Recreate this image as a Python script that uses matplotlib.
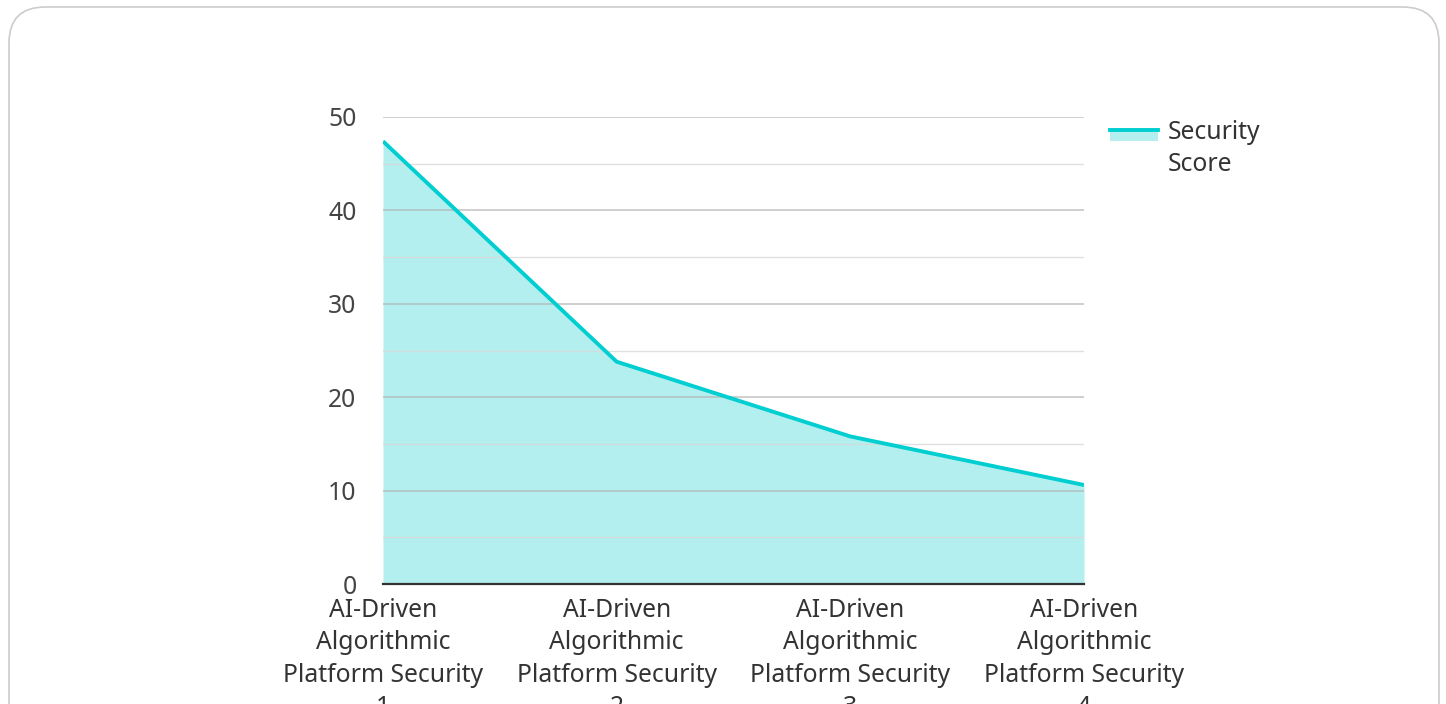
import matplotlib.pyplot as plt
from matplotlib.patches import FancyBboxPatch, Rectangle
from matplotlib.lines import Line2D

plt.rcParams['font.family'] = ['Noto Sans', 'DejaVu Sans']

categories = ["AI-Driven\nAlgorithmic\nPlatform Security\n1",
              "AI-Driven\nAlgorithmic\nPlatform Security\n2",
              "AI-Driven\nAlgorithmic\nPlatform Security\n3",
              "AI-Driven\nAlgorithmic\nPlatform Security\n4"]
security_score = [47.4, 23.8, 15.8, 10.6]
series_name = "Security\nScore"

line_color = "#00ced1"
fill_color = "#b2efee"
text_color = "#333333"
fsize = 17.8

fig = plt.figure(figsize=(14.46, 7.04), dpi=100)

# card border, runs off the bottom of the picture
card = FancyBboxPatch((9 / 1446, -0.2), 1430 / 1446, 1.2 - 7 / 704,
                      boxstyle="round,pad=0,rounding_size=0.025",
                      transform=fig.transFigure, facecolor="white",
                      edgecolor="#cccccc", linewidth=1.2, mutation_aspect=2.05,
                      zorder=-5)
fig.patches.append(card)

ax = fig.add_axes([383 / 1446, 1 - 584 / 704, (1084 - 383) / 1446, (584 - 117) / 704])
ax.patch.set_alpha(0)
x = range(len(categories))
ax.fill_between(x, security_score, 0, color=fill_color, linewidth=0, zorder=1)
ax.plot(x, security_score, color=line_color, linewidth=2.8, zorder=3,
        solid_capstyle="butt")

ax.set_xlim(0, len(categories) - 1)
ax.set_ylim(0, 50)
ax.set_yticks(range(0, 51, 10))
ax.set_yticks(range(5, 50, 10), minor=True)
ax.grid(axis="y", which="major", color="#b3b3b3", linewidth=1.1, alpha=0.8, zorder=2)
ax.grid(axis="y", which="minor", color="#d9d9d9", linewidth=1.0, alpha=0.8, zorder=2)
ax.set_axisbelow(False)

ax.set_xticks(list(x))
ax.set_xticklabels(categories, linespacing=1.39, va="top")
ax.tick_params(axis="both", which="both", length=0, labelsize=fsize, colors=text_color)
ax.tick_params(axis="x", pad=10)
ax.tick_params(axis="y", pad=19)
for lab in ax.get_yticklabels():
    lab.set_color("#444444")

for s in ["top", "right", "left"]:
    ax.spines[s].set_visible(False)
ax.spines["bottom"].set_color(text_color)
ax.spines["bottom"].set_linewidth(1.6)
ax.spines["bottom"].set_zorder(4)

# legend drawn by hand to match the swatch
fig.patches.append(Rectangle((1110 / 1446, 1 - 141 / 704), 48 / 1446, 12 / 704,
                             transform=fig.transFigure, facecolor=fill_color,
                             edgecolor="none"))
fig.lines.append(Line2D([1110 / 1446, 1158 / 1446], [1 - 129.5 / 704, 1 - 129.5 / 704],
                        transform=fig.transFigure, color=line_color, linewidth=2.8))
fig.text(1168 / 1446, 1 - 120 / 704, series_name, fontsize=fsize, color=text_color,
         va="top", ha="left", linespacing=1.39)

fig.savefig("out.png", dpi=100)
